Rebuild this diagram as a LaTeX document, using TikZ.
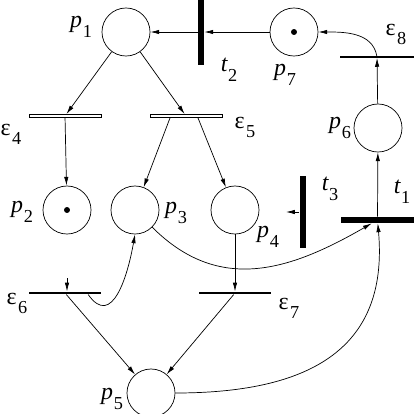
\documentclass[tikz,border=0pt]{standalone}
\usepackage{fontspec}
\setmainfont{Liberation Serif}
\usetikzlibrary{arrows.meta, positioning}
\newcommand{\pname}[2]{{\itshape #1}\kern0.5pt\raisebox{-0.42em}{\fontsize{13}{13}\selectfont #2}}
\newcommand{\ename}[1]{ε\kern1pt\raisebox{-0.38em}{\fontsize{13}{13}\selectfont #1}}
\tikzset{
  every picture/.style={line width=0.5pt},
  place/.style={draw, circle, minimum size=1.2cm, inner sep=0pt},
  token/.style={fill, circle, inner sep=1.5pt},
  bar/.style={fill=black, inner sep=0pt, minimum width=#1},
  bar/.default=0.15cm,
  hollow/.style={draw, fill=white, inner sep=0pt, minimum width=1.8cm, minimum height=0.08cm},
  flat/.style={fill=black, inner sep=0pt, minimum width=1.82cm, minimum height=#1},
  flat/.default=0.06cm,
  arc/.style={-{Latex[length=2.2mm, width=1.1mm]}},
  lbl/.style={font=\fontsize{17}{17}\selectfont, inner sep=0pt},
}

\begin{document}
\begin{tikzpicture}[x=0.025cm, y=-0.025cm]
  \useasboundingbox (0,0) rectangle (414,414);
  % places
  \node[place] (p1) at (126,32) {};
  \node[place] (p7) at (294,32) {};
  \node[token] (tok7) at (p7) {};
  \node[place] (p6) at (378,128) {};
  \node[place] (p2) at (67,210) {};
  \node[token] (tok2) at (p2) {};
  \node[place] (p3) at (135,210) {};
  \node[place] (p4) at (235,210) {};
  \node[place] (p5) at (151,393) {};
  % timed transitions
  \node[bar, minimum height=1.65cm] (t2) at (201,32) {};
  \node[bar=1.83cm, minimum height=0.15cm] (t1) at (377.5,220) {};
  \node[bar, minimum height=1.8cm] (t3) at (302.5,212) {};
  % epsilon transitions
  \node[hollow] (e4) at (65,116) {};
  \node[hollow] (e5) at (186,116) {};
  \node[flat] (e6) at (65,293) {};
  \node[flat] (e7) at (235,293) {};
  \node[flat=0.03cm, minimum width=1.85cm] (e8) at (377,57) {};
  % labels
  \node[lbl] (lp1) at (81,27) {\pname{p}{1}};
  \node[lbl] (lt2) at (229,70) {\pname{t}{2}};
  \node[lbl] (lp7) at (285,75) {\pname{p}{7}};
  \node[lbl] (le8) at (396,34) {\ename{8}};
  \node[lbl] (lp6) at (340,128) {\pname{p}{6}};
  \node[lbl] (le4) at (11,134) {\ename{4}};
  \node[lbl] (le5) at (245,127) {\ename{5}};
  \node[lbl] (lp2) at (22,212) {\pname{p}{2}};
  \node[lbl] (lp3) at (176,213) {\pname{p}{3}};
  \node[lbl] (lp4) at (268,237) {\pname{p}{4}};
  \node[lbl] (lt3) at (330,189) {\pname{t}{3}};
  \node[lbl] (lt1) at (402,192) {\pname{t}{1}};
  \node[lbl] (le6) at (17,303) {\ename{6}};
  \node[lbl] (le7) at (289,308) {\ename{7}};
  \node[lbl] (lp5) at (112,399) {\pname{p}{5}};
  % arcs
  \draw[arc] (t2) -- (p1);
  \draw[arc] (p7) -- (t2);
  \draw[arc] (e8) to[out=100, in=0] (p7.east);
  \draw[arc] (p6) -- (e8);
  \draw[arc] (t1) -- (p6);
  \draw[arc] (p1) -- (e4);
  \draw[arc] (p1) -- (e5);
  \draw[arc] (e4) -- (p2);
  \draw[arc] ([xshift=-0.4cm]e5.south) -- (p3);
  \draw[arc] ([xshift=0.3cm]e5.south) -- (p4);
  \draw[arc] (p4) -- (e7);
  \draw[arc] (e6) -- (p5);
  \draw[arc] (e7) -- (p5);
  \draw[arc] ([xshift=0.58cm]e6.south) to[out=-55, in=-100, looseness=1.4] (p3.south);
  \draw[arc] (p3) to[out=-45, in=-150, looseness=1.1] (t1);
  \draw[arc] (p5.east) to[out=0, in=-85, looseness=1.25] (t1);
  % stubs
  \coordinate (s3) at (286,212);
  \draw[arc] (t3.west) -- (s3);
  \coordinate (s6) at (67,278);
  \draw[arc] (s6) -- (e6.north -| s6);
\end{tikzpicture}
\end{document}
